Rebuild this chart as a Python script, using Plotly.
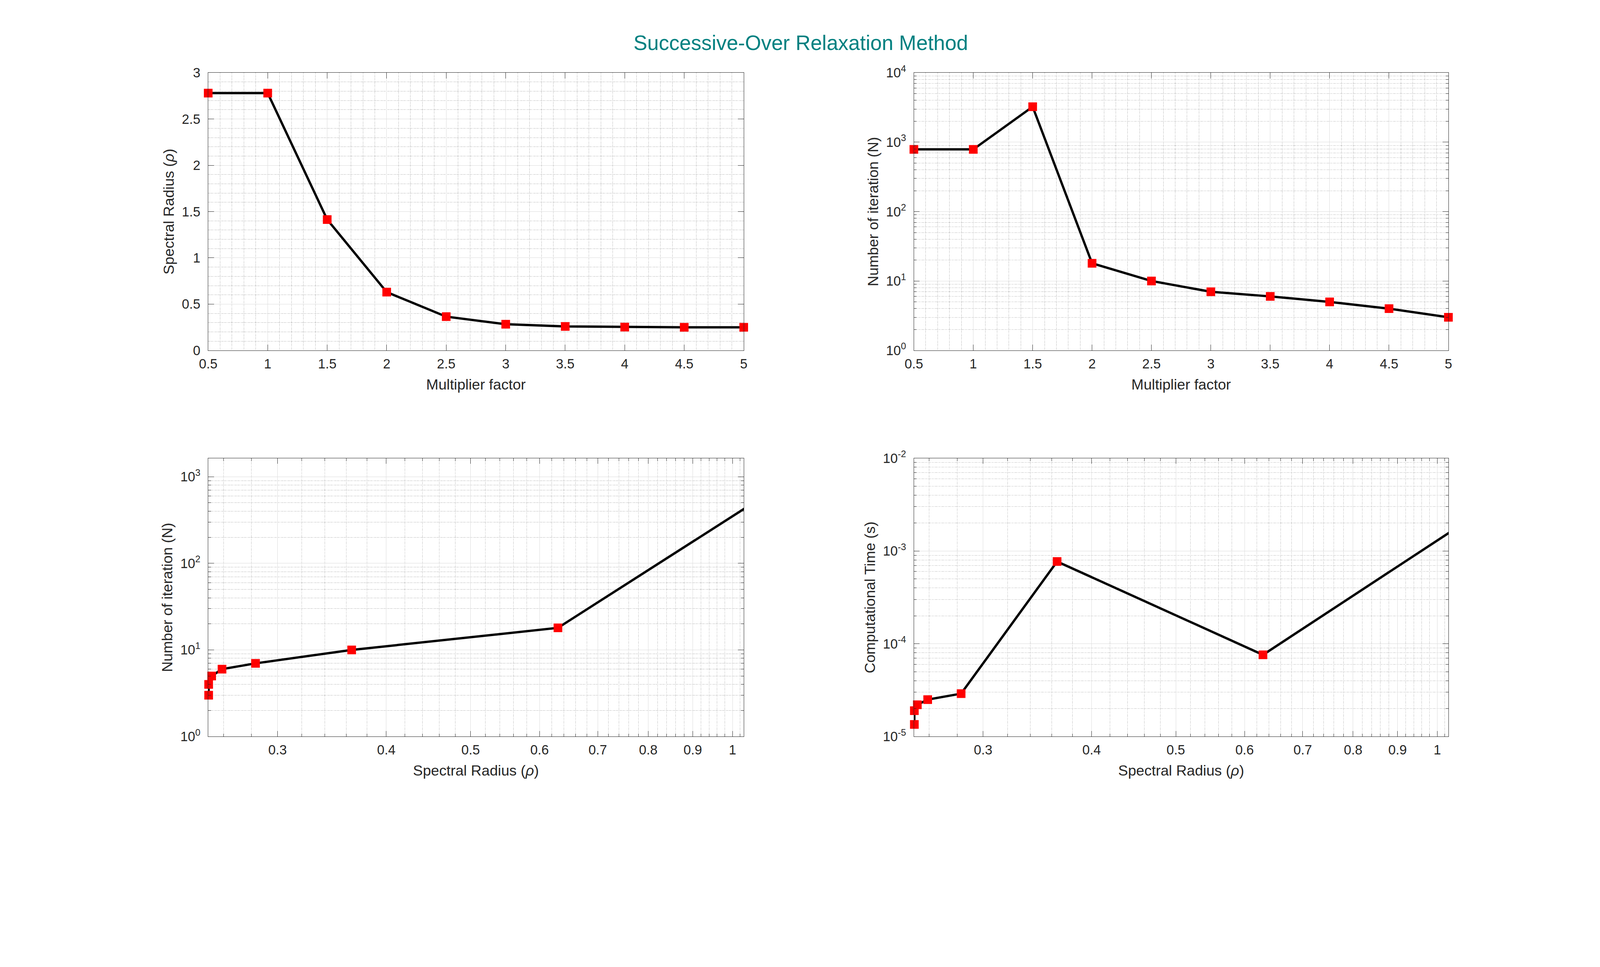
import numpy as np
import plotly.graph_objects as go

# ---------------- data ----------------
multiplier = [0.5, 1.0, 1.5, 2.0, 2.5, 3.0, 3.5, 4.0, 4.5, 5.0]
spectral_radius = [2.78, 2.78, 1.414, 0.630, 0.365, 0.283, 0.259, 0.252, 0.250, 0.250]
iterations = [787, 787, 3240, 18, 10, 7, 6, 5, 4, 3]
# times for multiplier 0.5 and 1.0 lie outside the visible window (unknown)
comp_time = [None, None, 1.09e-2, 7.6e-5, 7.7e-4, 2.9e-5, 2.5e-5, 2.2e-5, 1.9e-5, 1.35e-5]

mult_ticks = [0.5, 1, 1.5, 2, 2.5, 3, 3.5, 4, 4.5, 5]
rho_ticks = [0.3, 0.4, 0.5, 0.6, 0.7, 0.8, 0.9, 1.0]
rho_ticktext = ["0.3", "0.4", "0.5", "0.6", "0.7", "0.8", "0.9", "1"]
iter_ticks = [1, 10, 100, 1000, 10000]
iter_ticktext = ["10<sup>0</sup>", "10<sup>1</sup>", "10<sup>2</sup>", "10<sup>3</sup>", "10<sup>4</sup>"]
time_ticks = [1e-5, 1e-4, 1e-3, 1e-2]
time_ticktext = ["10<sup>-5</sup>", "10<sup>-4</sup>", "10<sup>-3</sup>", "10<sup>-2</sup>"]

title_text = "Successive-Over Relaxation Method"
rho_label = "Spectral Radius (<i>ρ</i>)"
mult_label = "Multiplier factor"
iter_label = "Number of iteration (N)"
time_label = "Computational Time (s)"

# ---------------- page geometry ----------------
W, H = 4800, 2475            # reference image size (image px)
VW = 4100                    # CSS width of the photographed viewport
S = VW / W                   # CSS px per image px
BODY = 8                     # default page margin (CSS px)
FW = VW - 2 * BODY           # figure width  (CSS px)
FH = round(H * S) - BODY     # figure height (CSS px)


def px(v):
    return v * S


def fx(xr):                  # reference x (image px) -> paper fraction
    return (xr * S - BODY) / FW


def fy(yr):                  # reference y (image px, from top) -> paper fraction
    return 1 - (yr * S - BODY) / FH


FONT = "Liberation Sans, Arial, Helvetica, sans-serif"
AX = "#262626"
TICK_FS = px(40)
LAB_FS = px(44)
MAJ_GRID = "#DCDCDC"
MIN_GRID = "#A9A9A9"

xd_left = [fx(624), fx(2229)]
xd_right = [fx(2739), fx(4341)]
yd_top = [fy(1050), fy(218)]
yd_bot = [fy(2207), fy(1373)]


def log_minor(e0, e1):
    return [k * 10.0 ** e for e in range(e0, e1) for k in range(2, 10)]


rho_minor = [v for v in np.round(np.arange(0.20, 1.07, 0.02), 2)
             if not any(abs(v - t) < 1e-9 for t in rho_ticks)]

AXW = px(1.4)
GRID_DASH = "%.1fpx,%.1fpx" % (px(2), px(2))


def base_axis(domain, anchor, title, **kw):
    d = dict(
        domain=domain, anchor=anchor,
        showline=True, linecolor=AX, linewidth=AXW, mirror="ticks",
        ticks="inside", ticklen=px(17), tickwidth=AXW, tickcolor=AX,
        tickfont=dict(family=FONT, size=TICK_FS, color=AX),
        showgrid=True, gridcolor=MAJ_GRID, gridwidth=AXW,
        zeroline=False, automargin=False,
        title=dict(text=title, font=dict(family=FONT, size=LAB_FS, color=AX)),
    )
    d.update(kw)
    return d


fig = go.Figure()

line = dict(color="black", width=px(7))
mark = dict(symbol="square", size=px(26), color="#FF0000", line=dict(width=0))

fig.add_trace(go.Scatter(x=multiplier, y=spectral_radius, mode="lines+markers",
                         line=line, marker=mark, cliponaxis=False,
                         xaxis="x", yaxis="y", showlegend=False))
fig.add_trace(go.Scatter(x=multiplier, y=iterations, mode="lines+markers",
                         line=line, marker=mark, cliponaxis=False,
                         xaxis="x2", yaxis="y2", showlegend=False))
fig.add_trace(go.Scatter(x=spectral_radius, y=iterations, mode="lines+markers",
                         line=line, marker=mark, cliponaxis=False,
                         xaxis="x3", yaxis="y3", showlegend=False))
fig.add_trace(go.Scatter(x=spectral_radius, y=comp_time, mode="lines+markers",
                         line=line, marker=mark, cliponaxis=False, connectgaps=False,
                         xaxis="x4", yaxis="y4", showlegend=False))

lin_minor_x = dict(dtick=0.1, tick0=0.5, ticks="", showgrid=True,
                   gridcolor=MIN_GRID, gridwidth=AXW, griddash=GRID_DASH)
lin_minor_y = dict(dtick=0.1, tick0=0, ticks="", showgrid=True,
                   gridcolor=MIN_GRID, gridwidth=AXW, griddash=GRID_DASH)


def arr_minor(vals):
    return dict(tickmode="array", tickvals=vals, ticks="inside", ticklen=px(8),
                tickwidth=AXW, tickcolor=AX, showgrid=True,
                gridcolor=MIN_GRID, gridwidth=AXW, griddash=GRID_DASH)


XT_STAND = 4
YT_STAND = 12
TITLE_STAND_X = 21
TITLE_STAND_Y = 8

layout = dict(
    width=FW, height=FH,
    paper_bgcolor="white", plot_bgcolor="white",
    margin=dict(l=0, r=0, t=0, b=0),
    showlegend=False,
    title=dict(text=title_text, x=fx(2400), xref="paper", xanchor="center",
               y=fy(128), yref="paper", yanchor="middle",
               font=dict(family=FONT, size=px(62), color="#008080")),
    # plot 1
    xaxis=base_axis(xd_left, "y", mult_label, type="linear", range=[0.5, 5],
                    tickmode="array", tickvals=mult_ticks,
                    ticklabelstandoff=XT_STAND, minor=lin_minor_x),
    yaxis=base_axis(yd_top, "x", rho_label, type="linear", range=[0, 3],
                    tickmode="linear", tick0=0, dtick=0.5,
                    ticklabelstandoff=YT_STAND, minor=lin_minor_y),
    # plot 2
    xaxis2=base_axis(xd_right, "y2", mult_label, type="linear", range=[0.5, 5],
                     tickmode="array", tickvals=mult_ticks,
                     ticklabelstandoff=XT_STAND, minor=lin_minor_x),
    yaxis2=base_axis(yd_top, "x2", iter_label, type="log", range=[0, 4],
                     tickmode="array", tickvals=iter_ticks, ticktext=iter_ticktext,
                     ticklabelstandoff=YT_STAND, minor=arr_minor(log_minor(0, 4))),
    # plot 3
    xaxis3=base_axis(xd_left, "y3", rho_label, type="log",
                     range=[np.log10(0.2497), np.log10(1.03)],
                     tickmode="array", tickvals=rho_ticks, ticktext=rho_ticktext,
                     ticklabelstandoff=XT_STAND, minor=arr_minor(rho_minor)),
    yaxis3=base_axis(yd_bot, "x3", iter_label, type="log", range=[0, 3.214],
                     tickmode="array", tickvals=iter_ticks[:4], ticktext=iter_ticktext[:4],
                     ticklabelstandoff=YT_STAND, minor=arr_minor(log_minor(0, 3))),
    # plot 4
    xaxis4=base_axis(xd_right, "y4", rho_label, type="log",
                     range=[np.log10(0.2497), np.log10(1.03)],
                     tickmode="array", tickvals=rho_ticks, ticktext=rho_ticktext,
                     ticklabelstandoff=XT_STAND, minor=arr_minor(rho_minor)),
    yaxis4=base_axis(yd_bot, "x4", time_label, type="log", range=[-5, -2],
                     tickmode="array", tickvals=time_ticks, ticktext=time_ticktext,
                     ticklabelstandoff=YT_STAND, minor=arr_minor(log_minor(-5, -2))),
)

for k in ["xaxis", "xaxis2", "xaxis3", "xaxis4"]:
    layout[k]["title"]["standoff"] = TITLE_STAND_X
for k in ["yaxis", "yaxis2", "yaxis3", "yaxis4"]:
    layout[k]["title"]["standoff"] = TITLE_STAND_Y

fig.update_layout(**layout)
fig.write_html("out.html")
